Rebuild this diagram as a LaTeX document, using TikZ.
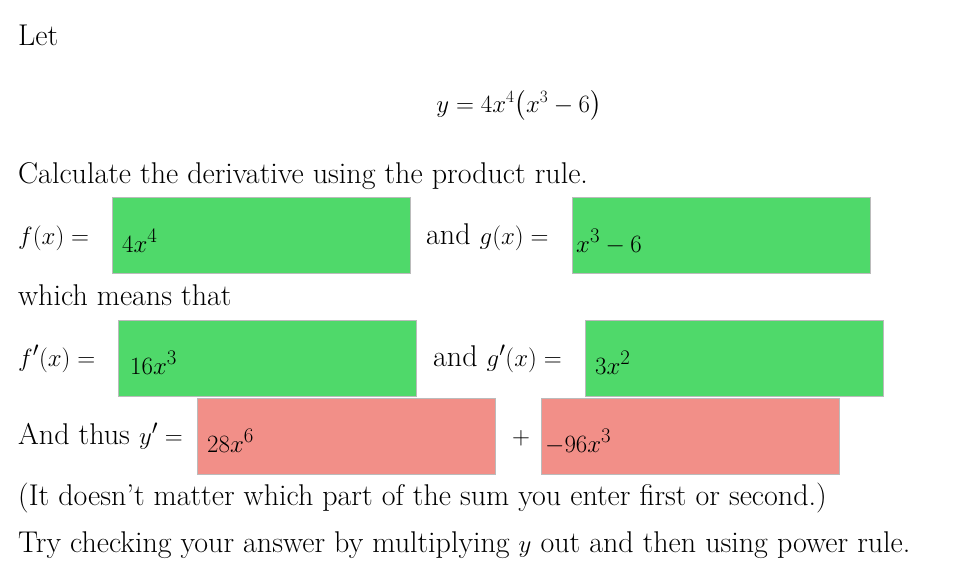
\documentclass[tikz,border=0pt]{standalone}
\usepackage{amsmath}
\definecolor{okgreen}{HTML}{4FD96A}
\definecolor{badred}{HTML}{F28F88}
\definecolor{rim}{HTML}{BBBBBB}
\begin{document}
\begin{tikzpicture}[x=1pt,y=-1pt,
  txt/.style={anchor=base west,inner sep=0pt,font=\fontsize{30}{36}\selectfont},
  mth/.style={anchor=base west,inner sep=0pt,font=\fontsize{28}{34}\selectfont},
  ans/.style={draw=rim,line width=0.8pt,minimum width=298pt,minimum height=76pt,inner sep=0pt}]
\useasboundingbox (0,0) rectangle (968,587);
\node[txt] (let) at (18,45) {Let};
\node[anchor=base,inner sep=0pt,font=\fontsize{27}{32}\selectfont] (eq) at (519,112) {$y = 4x^4\bigl(x^3-6\bigr)$};
\node[txt] (calc) at (18,183) {Calculate the derivative using the product rule.};
\node[mth] (f) at (18,244) {$f(x) =$};
\node[ans,fill=okgreen,anchor=north west] (b1) at (112,197) {};
\node[mth] (b1t) at (122,252) {$4x^4$};
\node[txt] (g) at (426,244) {and $g(x) =$};
\node[ans,fill=okgreen,anchor=north west] (b2) at (572,197) {};
\node[mth] (b2t) at (576,252) {$x^3-6$};
\node[txt] (which) at (18,305) {which means that};
\node[mth] (fp) at (18,366) {$f'(x) =$};
\node[ans,fill=okgreen,anchor=north west] (b3) at (118,320) {};
\node[mth] (b3t) at (130,374) {$16x^3$};
\node[txt] (gp) at (433,366) {and $g'(x) =$};
\node[ans,fill=okgreen,anchor=north west] (b4) at (585,320) {};
\node[mth] (b4t) at (595,374) {$3x^2$};
\node[txt] (thus) at (18,444) {And thus $y' =$};
\node[ans,fill=badred,anchor=north west] (b5) at (197,398) {};
\node[mth] (b5t) at (207,452) {$28x^6$};
\node[mth] (plus) at (512,444) {$+$};
\node[ans,fill=badred,anchor=north west] (b6) at (541,398) {};
\node[mth] (b6t) at (545,452) {$-96x^3$};
\node[txt] (it) at (18,505) {(It doesn't matter which part of the sum you enter first or second.)};
\node[txt] (try) at (18,552) {Try checking your answer by multiplying $y$ out and then using power rule.};
\end{tikzpicture}
\end{document}
